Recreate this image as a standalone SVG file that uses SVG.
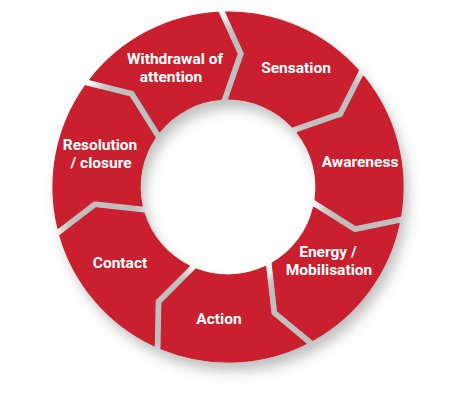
<svg xmlns="http://www.w3.org/2000/svg" width="474" height="415" viewBox="0 0 474 415">
  <style>
    .seg { fill: #c91f2e; stroke: #c91f2e; stroke-width: 1.2; stroke-linejoin: round; }
    .lbl { font-family: Roboto, "Liberation Sans", sans-serif; font-weight: bold; font-size: 15.5px; fill: #ffffff; text-anchor: middle; }
  </style>
  <defs>
    <filter id="blur" x="-20%" y="-20%" width="140%" height="140%">
      <feGaussianBlur stdDeviation="6.5"/>
    </filter>
    <path id="seg" d="M174.96,3.80 A175,175 0 0 1 112.04,134.44 L72.08,112.38 L57.78,66.38 A88,88 0 0 0 87.92,3.73 L132.89,21.26 Z"/>
  </defs>
  <rect width="474" height="415" fill="#ffffff"/>
  <g id="shadow" filter="url(#blur)">
    <path d="M408,196 A175,175 0 1 0 58,196 A175,175 0 1 0 408,196 Z M321,196 A88,88 0 1 1 145,196 A88,88 0 1 1 321,196 Z" fill="#000000" fill-opacity="0.25" fill-rule="evenodd"/>
  </g>
  <g id="connectors"/>
  <g id="sensation">
    <use href="#seg" class="seg" transform="translate(228 187) rotate(-92)"/>
    <text class="lbl" x="296" y="73">Sensation</text>
  </g>
  <g id="awareness">
    <use href="#seg" class="seg" transform="translate(228 187) rotate(-40.57)"/>
    <text class="lbl" x="360" y="167">Awareness</text>
  </g>
  <g id="energy">
    <use href="#seg" class="seg" transform="translate(228 187) rotate(10.86)"/>
    <text class="lbl" x="328" y="257">Energy /</text>
    <text class="lbl" x="329" y="275">Mobilisation</text>
  </g>
  <g id="action">
    <use href="#seg" class="seg" transform="translate(228 187) rotate(62.29)"/>
    <text class="lbl" x="219" y="324">Action</text>
  </g>
  <g id="contact">
    <use href="#seg" class="seg" transform="translate(228 187) rotate(113.71)"/>
    <text class="lbl" x="120" y="268">Contact</text>
  </g>
  <g id="resolution">
    <use href="#seg" class="seg" transform="translate(228 187) rotate(165.14)"/>
    <text class="lbl" x="100" y="150">Resolution</text>
    <text class="lbl" x="101" y="168">/ closure</text>
  </g>
  <g id="withdrawal">
    <use href="#seg" class="seg" transform="translate(228 187) rotate(216.57)"/>
    <text class="lbl" x="175" y="64">Withdrawal of</text>
    <text class="lbl" x="171" y="82">attention</text>
  </g>
</svg>
